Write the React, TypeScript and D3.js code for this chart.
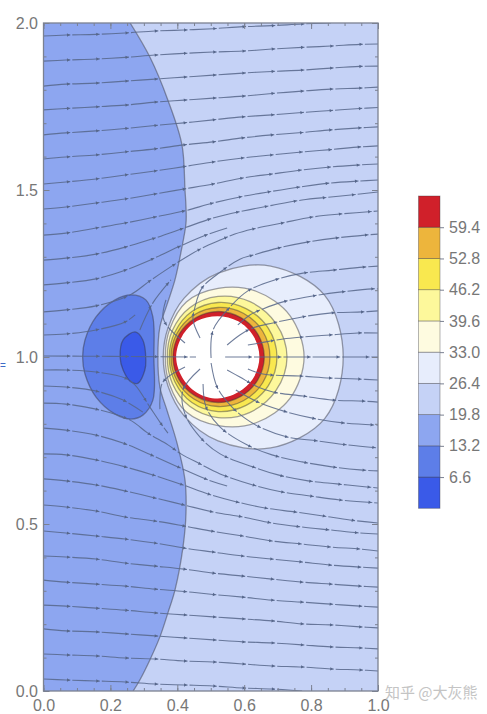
import React, { useEffect, useRef } from "react";
import * as d3 from "d3";

const bandColors = ["#3a5ae8", "#5d7ee8", "#8da6f0", "#c5d2f6", "#e7edfc", "#fefbe0", "#fdf89b", "#f9e84f", "#edb53c", "#d0202a"];
const legendTicks = [6.6, 13.2, 19.8, 26.4, 33.0, 39.6, 46.2, 52.8, 59.4];
const bandEdges = [0, 6.6, 13.2, 19.8, 26.4, 33.0, 39.6, 46.2, 52.8, 59.4, 66];

// region below 19.8, runs top edge to bottom edge
const level198: [number, number][] = [[.259, 2], [.318, 1.898], [.372, 1.769], [.414, 1.635], [.423, 1.5], [.426, 1.449], [.426, 1.401], [.411, 1.314], [.393, 1.231], [.369, 1.156], [.348, 1.09], [.342, 1], [.348, .91], [.369, .841], [.399, .743], [.423, .632], [.426, .533], [.417, .431], [.393, .302], [.372, .234], [.348, .162], [.318, .093], [.288, .033], [.268, 0]];
const level132: [number, number][] = [[.117, 1], [.124, 1.051], [.157, 1.12], [.214, 1.171], [.262, 1.186], [.306, 1.171], [.327, 1.12], [.33, 1], [.327, .871], [.297, .826], [.262, .814], [.214, .829], [.157, .88], [.124, .949]];
const level66: [number, number][] = [[.229, 1], [.238, 1.051], [.274, 1.075], [.297, 1.051], [.306, .991], [.303, .961], [.283, .922], [.262, .925], [.238, .961]];

// contours round the cylinder, radius at each angle
const ringCenter = [.522, 1];
const ringAngles = [0, 30, 60, 90, 120, 150, 180, 210, 240, 270, 300, 330];
const ring264 = [.374, .368, .314, .251, .203, .173, .164, .173, .203, .251, .314, .368];
const ring330 = [.257, .248, .227, .205, .19, .167, .158, .167, .19, .205, .227, .248];
const ring396 = [.206, .2, .191, .181, .17, .158, .152, .158, .17, .181, .191, .2];
const ring462 = [.176, .173, .167, .163, .157, .149, .146, .149, .157, .163, .167, .173];
const ring528 = [.155, .154, .151, .148, .145, .142, .141, .142, .145, .148, .151, .154];
const ring594 = [.138, .137, .136, .136, .135, .135, .135, .135, .135, .136, .136, .137];
const ringWhite = [.125, .124, .123, .122, .124, .123, .124, .122, .123, .124, .122, .124];

// streamlines that cross the whole plot share these x positions
const farX = [0, .067, .157, .244, .333, .42, .507, .596, .683, .773, .859, .946, 1];
const top1 = [1.961, 1.964, 1.966, 1.97, 1.976, 1.979, 1.983, 1.989, 1.992, 1.997, 2];
const top2 = [1.886, 1.889, 1.892, 1.897, 1.904, 1.909, 1.913, 1.916, 1.922, 1.927, 1.931, 1.936, 1.937];
const top3 = [1.811, 1.817, 1.82, 1.826, 1.832, 1.838, 1.844, 1.85, 1.855, 1.859, 1.865, 1.87, 1.871];
const top4 = [1.74, 1.744, 1.749, 1.754, 1.763, 1.769, 1.775, 1.781, 1.789, 1.796, 1.802, 1.805, 1.808];
const top5 = [1.665, 1.671, 1.677, 1.684, 1.693, 1.701, 1.71, 1.719, 1.725, 1.732, 1.738, 1.744, 1.747];
const top6 = [1.593, 1.599, 1.605, 1.614, 1.623, 1.635, 1.644, 1.656, 1.665, 1.672, 1.68, 1.686, 1.689];
const top7 = [1.518, 1.524, 1.533, 1.545, 1.557, 1.57, 1.584, 1.596, 1.605, 1.614, 1.621, 1.629, 1.632];
const top8 = [1.443, 1.449, 1.461, 1.473, 1.488, 1.503, 1.518, 1.536, 1.548, 1.56, 1.569, 1.575, 1.578];
const top9 = [1.365, 1.371, 1.386, 1.401, 1.419, 1.437, 1.461, 1.481, 1.496, 1.51, 1.521, 1.527, 1.53];
const top10 = [1.29, 1.296, 1.308, 1.329, 1.356, 1.386, 1.416, 1.437, 1.454, 1.47, 1.479, 1.488, 1.494];
const low1 = [.635, .629, .617, .599, .578, .557, .536, .521, .503, .491, .482, .473, .47];
const low2 = [.557, .551, .539, .521, .509, .494, .478, .464, .449, .44, .431, .425, .419];
const low3 = [.479, .473, .464, .455, .443, .428, .416, .404, .395, .386, .377, .371, .368];
const low4 = [.404, .401, .395, .383, .374, .365, .353, .344, .335, .326, .32, .314, .311];
const low5 = [.332, .326, .32, .314, .305, .298, .289, .281, .272, .266, .26, .254, .251];
const low6 = [.257, .254, .248, .242, .234, .228, .222, .216, .21, .201, .198, .192, .189];
const low7 = [.186, .18, .177, .171, .165, .159, .153, .147, .144, .138, .132, .129, .126];
const low8 = [.111, .108, .105, .099, .096, .09, .087, .081, .075, .072, .066, .063, .06];
const low9 = [.036, .033, .03, .027, .021, .018, .015, .009, .006, 0];
const farLines = [top1, top2, top3, top4, top5, top6, top7, top8, top9, top10, low1, low2, low3, low4, low5, low6, low7, low8, low9];

// the rest, as x/y pairs
const nearLines: [number, number][][] = [
  [[0, 1.216], [.067, 1.222], [.157, 1.234], [.244, 1.26], [.318, 1.29], [.402, 1.329], [.486, 1.365], [.549, 1.386]],
  [[0, 1.135], [.067, 1.141], [.157, 1.153], [.259, 1.186], [.318, 1.228], [.393, 1.278], [.468, 1.323], [.528, 1.35], [.572, 1.368], [.626, 1.383], [.713, 1.401], [.803, 1.419], [.886, 1.428], [1, 1.437]],
  [[0, 1.066], [.067, 1.069], [.157, 1.081], [.244, 1.105], [.274, 1.126]],
  [[0, 1.003], [.2, 1.002], [.456, 1]],
  [[.288, 1.081], [.327, 1.162], [.381, 1.231]],
  [[.366, 1.171], [.357, 1.12], [.372, 1.09], [.423, 1.042]],
  [[.468, 1.057], [.447, 1.111], [.453, 1.15], [.474, 1.207], [.528, 1.254], [.587, 1.293], [.626, 1.305], [.701, 1.326], [.788, 1.344], [.871, 1.356], [.961, 1.365], [1, 1.368]],
  [[.501, .997], [.507, 1.081], [.558, 1.15], [.611, 1.198], [.692, 1.231], [.776, 1.251], [.865, 1.26], [.955, 1.269], [1, 1.272]],
  [[.581, 1.096], [.617, 1.126], [.656, 1.144], [.716, 1.165], [.806, 1.183], [.892, 1.195], [.982, 1.204], [1, 1.204]],
  [[.549, 1.036], [.587, 1.066], [.626, 1.087], [.686, 1.102], [.773, 1.12], [.862, 1.132], [.952, 1.135], [1, 1.138]],
  [[.611, 1.036], [.647, 1.042], [.716, 1.054], [.776, 1.06], [.857, 1.066], [.94, 1.072], [1, 1.072]],
  [[.543, 1], [.8, 1], [1, 1]],
  [[.611, .964], [.656, .949], [.767, .943], [.857, .937], [.94, .934], [1, .931]],
  [[.549, .961], [.587, .94], [.641, .91], [.686, .895], [.776, .883], [.865, .871], [.955, .868], [1, .865]],
  [[.575, .901], [.641, .865], [.728, .835], [.818, .814], [.901, .802], [1, .796]],
  [[.501, .982], [.519, .91], [.558, .856], [.602, .817], [.647, .79], [.731, .76], [.818, .749], [.907, .737], [1, .728]],
  [[.477, .919], [.486, .85], [.528, .79], [.608, .737], [.683, .707], [.773, .686], [.862, .671], [.946, .662], [1, .659]],
  [[.468, .964], [.417, .901], [.423, .829], [.468, .76], [.528, .71], [.626, .671], [.701, .647], [.791, .629], [.877, .62], [.967, .611], [1, .608]],
  [[.423, .97], [.357, .925], [.348, .871], [.348, .844]],
  [[0, .961], [.067, .961], [.157, .955], [.244, .937], [.274, .916], [.318, .85], [.348, .805], [.372, .772]],
  [[0, .913], [.067, .91], [.157, .898], [.238, .871], [.297, .835]],
  [[0, .862], [.067, .859], [.157, .844], [.259, .811], [.312, .772], [.372, .737], [.411, .71], [.468, .68], [.528, .65], [.626, .617], [.713, .596], [.797, .584], [.886, .572], [1, .563]],
  [[0, .787], [.067, .781], [.157, .766], [.244, .74], [.321, .707], [.402, .671], [.492, .632], [.549, .614]],
  [[0, .71], [.067, .707], [.157, .692], [.244, .671], [.327, .647], [.417, .617], [.492, .59], [.578, .566], [.662, .548], [.752, .536], [.836, .524], [.916, .512], [1, .503]],
];

const labelColor = "#777777";
const frameColor = "#7b8191";

export default function App() {
  const svgRef = useRef<SVGSVGElement>(null);

  useEffect(() => {
    const svg = d3.select(svgRef.current);
    svg.selectAll("*").remove();

    const x = d3.scaleLinear().domain([0, 1]).range([43.5, 378]);
    const y = d3.scaleLinear().domain([0, 2]).range([691, 23]);
    const unit = x(1) - x(0);

    const clipId = "plot-clip";
    svg.append("clipPath").attr("id", clipId).append("rect")
      .attr("x", x(0)).attr("y", y(2)).attr("width", unit).attr("height", y(0) - y(2));

    const plot = svg.append("g").attr("clip-path", `url(#${clipId})`);
    const contourStroke = "rgba(50,50,60,0.45)";

    plot.append("rect").attr("x", x(0)).attr("y", y(2)).attr("width", unit).attr("height", y(0) - y(2)).attr("fill", bandColors[3]);

    const curve = d3.line<[number, number]>().x((d) => x(d[0])).y((d) => y(d[1])).curve(d3.curveCatmullRom);
    const closed = d3.line<[number, number]>().x((d) => x(d[0])).y((d) => y(d[1])).curve(d3.curveCatmullRomClosed);

    plot.append("path")
      .attr("d", `${curve(level198)}L${x(0)},${y(0)}L${x(0)},${y(2)}Z`)
      .attr("fill", bandColors[2]).attr("stroke", "none");
    plot.append("path").attr("d", curve(level198)).attr("fill", "none").attr("stroke", contourStroke).attr("stroke-width", 1.3);
    plot.append("path").attr("d", closed(level132)).attr("fill", bandColors[1]).attr("stroke", contourStroke).attr("stroke-width", 1.3);
    plot.append("path").attr("d", closed(level66)).attr("fill", bandColors[0]).attr("stroke", contourStroke).attr("stroke-width", 1.3);

    const ring = d3.lineRadial<number>()
      .angle((_, i) => ((90 - ringAngles[i]) * Math.PI) / 180)
      .radius((r) => r * unit)
      .curve(d3.curveCatmullRomClosed);

    const rings = [ring264, ring330, ring396, ring462, ring528, ring594];
    rings.forEach((radii, i) => {
      plot.append("path")
        .attr("transform", `translate(${x(ringCenter[0])},${y(ringCenter[1])})`)
        .attr("d", ring(radii))
        .attr("fill", bandColors[i + 4])
        .attr("stroke", contourStroke)
        .attr("stroke-width", 1.3);
    });
    plot.append("path")
      .attr("transform", `translate(${x(ringCenter[0]) - 0.5},${y(ringCenter[1])})`)
      .attr("d", ring(ringWhite))
      .attr("fill", "#ffffff");

    // streamlines
    const allLines = [
      ...farLines.map((ys) => ys.map((v, i) => [farX[i], v] as [number, number])),
      ...nearLines,
    ];
    const spacing = 29.3;
    const first = 24.5;
    const arrow = d3.symbol().type(d3.symbolTriangle).size(5);
    const streams = plot.append("g");

    allLines.forEach((pts) => {
      const path = streams.append("path")
        .attr("d", curve(pts))
        .attr("fill", "none")
        .attr("stroke", "#56668a")
        .attr("stroke-opacity", 0.85)
        .attr("stroke-width", 1.1)
        .attr("stroke-dasharray", `${spacing - 2} 2`)
        .attr("stroke-dashoffset", spacing - 2 - first - 2.5);
      const node = path.node() as SVGPathElement;
      const total = node.getTotalLength();
      for (let s = first; s < total - 1; s += spacing) {
        const p = node.getPointAtLength(s);
        const q = node.getPointAtLength(s + 0.5);
        const angle = (Math.atan2(q.y - p.y, q.x - p.x) * 180) / Math.PI + 90;
        streams.append("path")
          .attr("d", arrow())
          .attr("transform", `translate(${p.x},${p.y}) rotate(${angle})`)
          .attr("fill", "#56668a");
      }
    });

    // frame and ticks
    const styleAxis = (g: any) => {
      g.select(".domain").remove();
      g.selectAll("line").attr("stroke", frameColor).attr("stroke-width", 1);
      g.selectAll("text")
        .attr("fill", labelColor)
        .style("font-family", "'Liberation Sans', Arial, sans-serif")
        .style("font-size", "16px");
    };
    const noLabel = () => "";
    const xMinor = d3.range(0, 21).map((i) => i * 0.05);
    const xMajor = [0, .2, .4, .6, .8, 1];
    const yMinor = d3.range(0, 21).map((i) => i * 0.1);
    const yMajor = [0, .5, 1, 1.5, 2];

    const axes = svg.append("g");
    const bottomAt = `translate(0,${y(0)})`;
    const topAt = `translate(0,${y(2)})`;
    const leftAt = `translate(${x(0)},0)`;
    const rightAt = `translate(${x(1)},0)`;

    axes.append("g").attr("transform", bottomAt).call(d3.axisBottom(x).tickValues(xMinor).tickSizeInner(-3).tickSizeOuter(0).tickFormat(noLabel)).call(styleAxis);
    axes.append("g").attr("transform", topAt).call(d3.axisTop(x).tickValues(xMinor).tickSizeInner(-3).tickSizeOuter(0).tickFormat(noLabel)).call(styleAxis);
    axes.append("g").attr("transform", leftAt).call(d3.axisLeft(y).tickValues(yMinor).tickSizeInner(-3).tickSizeOuter(0).tickFormat(noLabel)).call(styleAxis);
    axes.append("g").attr("transform", rightAt).call(d3.axisRight(y).tickValues(yMinor).tickSizeInner(-3).tickSizeOuter(0).tickFormat(noLabel)).call(styleAxis);
    axes.append("g").attr("transform", bottomAt).call(d3.axisBottom(x).tickValues(xMajor).tickSizeInner(-6).tickSizeOuter(0).tickPadding(9).tickFormat(d3.format(".1f") as any)).call(styleAxis);
    axes.append("g").attr("transform", leftAt).call(d3.axisLeft(y).tickValues(yMajor).tickSizeInner(-6).tickSizeOuter(0).tickPadding(5.5).tickFormat(d3.format(".1f") as any)).call(styleAxis);
    axes.append("g").attr("transform", topAt).call(d3.axisTop(x).tickValues(xMajor).tickSizeInner(-6).tickSizeOuter(0).tickFormat(noLabel)).call(styleAxis);
    axes.append("g").attr("transform", rightAt).call(d3.axisRight(y).tickValues(yMajor).tickSizeInner(-6).tickSizeOuter(0).tickFormat(noLabel)).call(styleAxis);

    axes.append("rect")
      .attr("x", x(0)).attr("y", y(2)).attr("width", unit).attr("height", y(0) - y(2))
      .attr("fill", "none").attr("stroke", frameColor).attr("stroke-width", 1.3);

    // legend
    const legendY = d3.scaleLinear().domain([0, 66]).range([508.3, 196]);
    const legend = svg.append("g");
    legend.selectAll("rect.band")
      .data(bandColors)
      .join("rect")
      .attr("class", "band")
      .attr("x", 418.5)
      .attr("width", 21.5)
      .attr("y", (_, i) => legendY(bandEdges[i + 1]))
      .attr("height", (_, i) => legendY(bandEdges[i]) - legendY(bandEdges[i + 1]))
      .attr("fill", (d) => d)
      .attr("stroke", "rgba(50,50,60,0.45)")
      .attr("stroke-width", 0.8);
    legend.append("g")
      .attr("transform", "translate(440,0)")
      .call(d3.axisRight(legendY).tickValues(legendTicks).tickSize(4).tickPadding(5).tickFormat(d3.format(".1f") as any))
      .call(styleAxis);

    // stray mark at the left edge and the watermark
    svg.append("text").attr("x", 0).attr("y", 369).attr("fill", "#3f6cc8")
      .style("font-family", "'Liberation Sans', Arial, sans-serif").style("font-size", "10px").text("=");
    svg.append("text").attr("x", 385).attr("y", 698).attr("fill", "#c4c4c4")
      .style("font-family", "'Noto Sans CJK SC', sans-serif").style("font-size", "15px").text("知乎 @大灰熊");
  }, []);

  return <svg ref={svgRef} width={487} height={714} style={{ position: "absolute", left: 0, top: 0, display: "block" }} />;
}
